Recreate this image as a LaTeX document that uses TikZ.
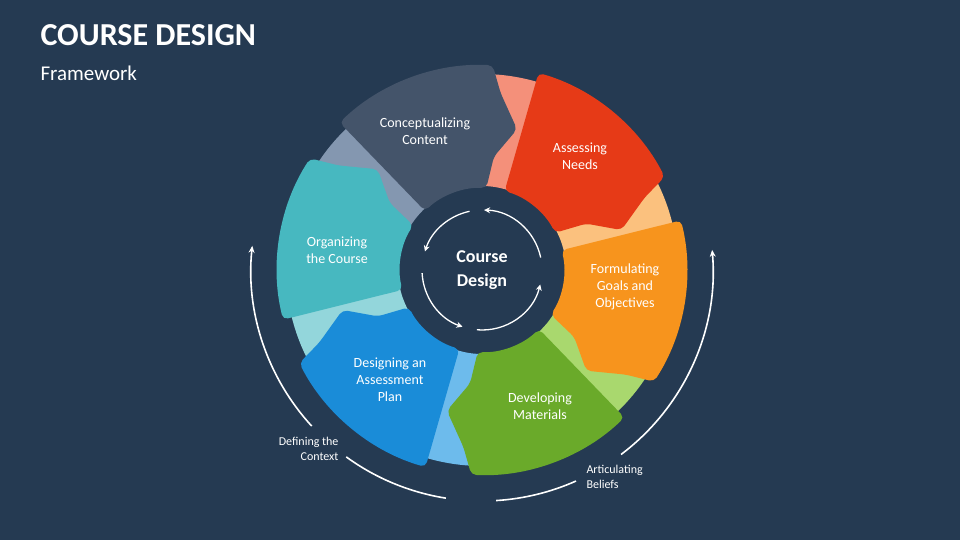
\documentclass[tikz,border=0pt]{standalone}
\usepackage{fontspec}
\setmainfont{Carlito}
\usetikzlibrary{arrows.meta}
\definecolor{bg}{HTML}{253A52}
\definecolor{dA}{HTML}{44546A}\definecolor{lA}{HTML}{8497B0}
\definecolor{dB}{HTML}{E63A17}\definecolor{lB}{HTML}{F4907A}
\definecolor{dC}{HTML}{F7941D}\definecolor{lC}{HTML}{FBC17E}
\definecolor{dD}{HTML}{6AAA2A}\definecolor{lD}{HTML}{A9D86E}
\definecolor{dE}{HTML}{1A8CD8}\definecolor{lE}{HTML}{6DBBEC}
\definecolor{dF}{HTML}{47B8C0}\definecolor{lF}{HTML}{93D6DB}
\newcommand\seglight[2]{%
 \pgfmathsetmacro\sa{#1+37}\pgfmathsetmacro\sb{#1+14}%
 \fill[#2] (\sa:196pt) arc[start angle=\sa,end angle=\sb,radius=196pt] -- (\sb:84pt) arc[start angle=\sb,end angle=\sa,radius=84pt] -- cycle;}
\newcommand\segdark[2]{%
 \pgfmathsetmacro\sa{#1+22}\pgfmathsetmacro\sb{#1-25}\pgfmathsetmacro\sc{#1-28}\pgfmathsetmacro\sd{#1-36}%
 \fill[#2,rounded corners=5pt] (\sa:205pt) arc[start angle=\sa,end angle=\sb,radius=205pt] -- (\sc:178pt) -- (\sd:145pt) -- (\sc:114pt) -- (\sb:82pt) arc[start angle=\sb,end angle=\sa,radius=82pt] -- cycle;}
\begin{document}
\begin{tikzpicture}[x=1pt,y=1pt,
  lab/.style={text=white,align=center,font=\fontsize{14}{17}\selectfont},
  side/.style={text=white,font=\fontsize{12}{15}\selectfont},
  ring/.style={white,line width=1.6pt},
  iring/.style={white,line width=1.3pt,-{Stealth[length=6pt,width=6pt]}}]
\fill[bg] (0,0) rectangle (960,-540);
\useasboundingbox (0,0) rectangle (960,-540);
\node[anchor=west,text=white,font=\bfseries\fontsize{32}{36}\selectfont] (title) at (37,-35) {COURSE DESIGN};
\node[anchor=west,text=white,font=\fontsize{21}{24}\selectfont] (sub) at (37,-73) {Framework};
\begin{scope}[shift={(482,-270)}]
 \seglight{112}{lA}\seglight{52}{lB}\seglight{-8}{lC}\seglight{-68}{lD}\seglight{-128}{lE}\seglight{172}{lF}
 \segdark{172}{dF}\segdark{112}{dA}\segdark{52}{dB}\segdark{-8}{dC}\segdark{-68}{dD}\segdark{-128}{dE}
 \draw[iring] (12:60pt) arc[start angle=12,end angle=88,radius=60pt];
 \draw[iring] (102:60pt) arc[start angle=102,end angle=162,radius=60pt];
 \draw[iring] (183:60pt) arc[start angle=183,end angle=251,radius=60pt];
 \draw[iring] (265:60pt) arc[start angle=265,end angle=346,radius=60pt];
 \draw[ring] (-99:231pt) arc[start angle=-99,end angle=-126,radius=231pt];
 \draw[ring,-{Stealth[length=7pt,width=6pt]}] (-137.5:231pt) arc[start angle=-137.5,end angle=-186,radius=231pt];
 \draw[ring] (-86.5:231pt) arc[start angle=-86.5,end angle=-66,radius=231pt];
 \draw[ring,-{Stealth[length=7pt,width=6pt]}] (-53:231pt) arc[start angle=-53,end angle=5,radius=231pt];
\end{scope}
\node[text=white,align=center,font=\bfseries\fontsize{18}{24}\selectfont] (core) at (482,-270) {Course\\Design};
\node[lab] (cc) at (425,-131) {Conceptualizing\\Content};
\node[lab] (an) at (580,-156) {Assessing\\Needs};
\node[lab] (fg) at (625,-287) {Formulating\\Goals and\\Objectives};
\node[lab] (dm) at (540,-406) {Developing\\Materials};
\node[lab] (da) at (390,-380) {Designing an\\Assessment\\Plan};
\node[lab] (oc) at (337,-250) {Organizing\\the Course};
\node[side,anchor=east,align=right] (dc) at (342,-449) {Defining the\\Context};
\node[side,anchor=west,align=left] (ab) at (583,-477) {Articulating\\Beliefs};
\end{tikzpicture}
\end{document}
